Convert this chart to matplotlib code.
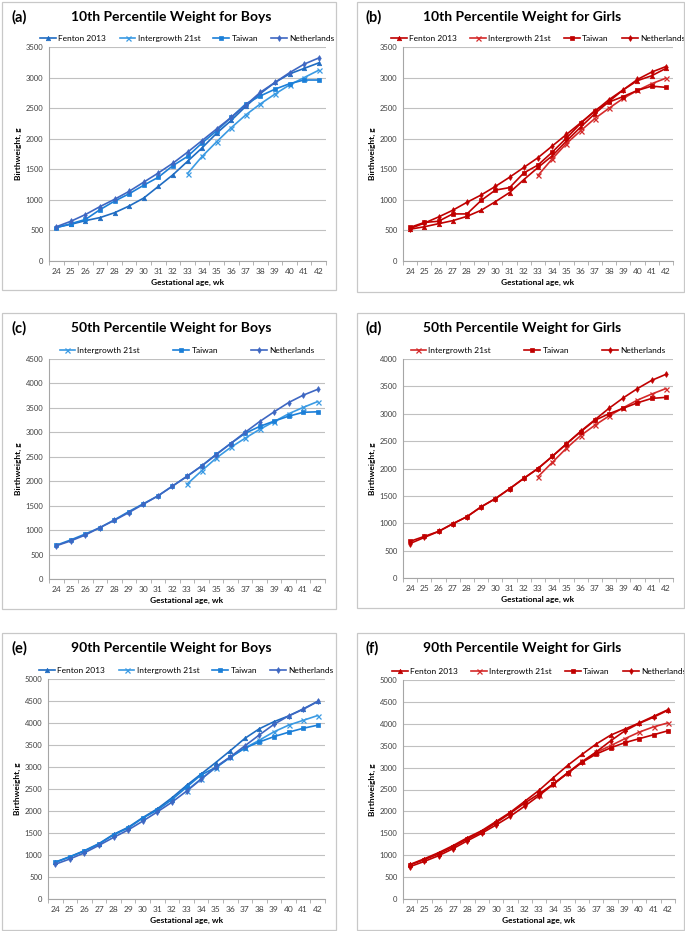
"""Birthweight percentile charts: boys (blue) and girls (red), six panels."""

import matplotlib

matplotlib.use("Agg")
import matplotlib.pyplot as plt
from matplotlib.patches import Rectangle

plt.rcParams["font.family"] = ["Lato", "DejaVu Sans"]

weeks = list(range(24, 43))
weeks_ig = list(range(33, 43))

# 10th percentile, boys
fenton_b10 = [550, 600, 660, 710, 790, 900, 1030, 1220, 1410, 1630, 1850, 2090, 2300, 2530, 2740, 2920, 3060, 3150, 3240]
ig_b10 = [1430, 1710, 1950, 2180, 2390, 2570, 2730, 2880, 3000, 3120]
taiwan_b10 = [545, 610, 680, 840, 980, 1100, 1240, 1370, 1560, 1710, 1930, 2130, 2350, 2570, 2700, 2810, 2900, 2960, 2960]
nl_b10 = [560, 650, 760, 890, 1010, 1140, 1290, 1440, 1600, 1780, 1970, 2160, 2350, 2550, 2760, 2920, 3080, 3220, 3320]

# 10th percentile, girls
fenton_g10 = [520, 560, 610, 660, 730, 830, 970, 1120, 1330, 1530, 1720, 1960, 2190, 2410, 2610, 2800, 2950, 3030, 3150]
ig_g10 = [1400, 1670, 1920, 2130, 2330, 2500, 2660, 2790, 2900, 2990]
taiwan_g10 = [550, 630, 650, 770, 770, 990, 1160, 1200, 1440, 1570, 1780, 2010, 2250, 2460, 2600, 2690, 2790, 2860, 2840]
nl_g10 = [530, 620, 720, 830, 960, 1080, 1220, 1370, 1530, 1690, 1880, 2070, 2260, 2450, 2640, 2800, 2970, 3090, 3180]

# 50th percentile, boys
ig_b50 = [1940, 2210, 2470, 2690, 2880, 3060, 3220, 3380, 3510, 3630]
taiwan_b50 = [690, 800, 920, 1050, 1210, 1380, 1540, 1700, 1900, 2100, 2310, 2550, 2770, 2980, 3120, 3230, 3330, 3410, 3420]
nl_b50 = [680, 780, 900, 1050, 1200, 1360, 1530, 1700, 1900, 2100, 2310, 2540, 2770, 3000, 3220, 3420, 3610, 3760, 3880]

# 50th percentile, girls
ig_g50 = [1850, 2110, 2370, 2600, 2790, 2960, 3110, 3250, 3360, 3460]
taiwan_g50 = [670, 760, 850, 990, 1120, 1300, 1450, 1630, 1820, 2000, 2220, 2450, 2670, 2880, 3000, 3100, 3200, 3280, 3300]
nl_g50 = [630, 740, 850, 990, 1120, 1300, 1450, 1630, 1820, 2000, 2220, 2450, 2680, 2890, 3100, 3290, 3460, 3610, 3720]

# 90th percentile, boys
fenton_b90 = [840, 960, 1100, 1260, 1470, 1630, 1850, 2050, 2300, 2580, 2840, 3100, 3370, 3650, 3870, 4030, 4160, 4320, 4490]
ig_b90 = [2460, 2730, 2980, 3220, 3430, 3610, 3800, 3950, 4060, 4170]
taiwan_b90 = [830, 960, 1090, 1250, 1460, 1610, 1840, 2020, 2260, 2540, 2820, 2990, 3220, 3430, 3570, 3690, 3790, 3880, 3950]
nl_b90 = [790, 910, 1050, 1220, 1400, 1570, 1770, 1980, 2200, 2450, 2720, 3000, 3230, 3480, 3730, 3970, 4160, 4310, 4490]

# 90th percentile, girls
fenton_g90 = [790, 920, 1060, 1220, 1400, 1560, 1770, 1980, 2230, 2480, 2770, 3050, 3300, 3540, 3740, 3880, 4020, 4170, 4320]
ig_g90 = [2380, 2630, 2880, 3140, 3350, 3500, 3660, 3810, 3930, 4020]
taiwan_g90 = [780, 900, 1030, 1190, 1370, 1530, 1740, 1960, 2190, 2400, 2620, 2870, 3120, 3310, 3450, 3570, 3660, 3750, 3840]
nl_g90 = [740, 860, 990, 1150, 1330, 1500, 1690, 1890, 2120, 2360, 2620, 2880, 3120, 3360, 3610, 3840, 4010, 4150, 4310]

W, H = 685, 931

BLUE = {"Fenton 2013": "#1f6cc2", "Intergrowth 21st": "#3a9ae3",
        "Taiwan": "#1b7fd8", "Netherlands": "#3e67c2"}
RED = {"Fenton 2013": "#c00000", "Intergrowth 21st": "#d42a2a",
       "Taiwan": "#c00000", "Netherlands": "#c00000"}
MARK = {"Fenton 2013": ("^", 3.2), "Intergrowth 21st": ("x", 3.6),
        "Taiwan": ("s", 3.2), "Netherlands": ("d", 3.0)}


def box(x0, y0, x1, y1):
    return [x0 / W, 1 - y1 / H, (x1 - x0) / W, (y1 - y0) / H]


panels = [
    ("(a)", "10th Percentile Weight for Boys", BLUE, 3500,
     [("Fenton 2013", weeks, fenton_b10), ("Intergrowth 21st", weeks_ig, ig_b10),
      ("Taiwan", weeks, taiwan_b10), ("Netherlands", weeks, nl_b10)],
     (2, 2, 336, 290), (49, 47, 326, 261)),
    ("(b)", "10th Percentile Weight for Girls", RED, 3500,
     [("Fenton 2013", weeks, fenton_g10), ("Intergrowth 21st", weeks_ig, ig_g10),
      ("Taiwan", weeks, taiwan_g10), ("Netherlands", weeks, nl_g10)],
     (357, 2, 684, 292), (403, 47, 673, 261)),
    ("(c)", "50th Percentile Weight for Boys", BLUE, 4500,
     [("Intergrowth 21st", weeks_ig, ig_b50),
      ("Taiwan", weeks, taiwan_b50), ("Netherlands", weeks, nl_b50)],
     (2, 313, 336, 609), (49, 359, 325, 579)),
    ("(d)", "50th Percentile Weight for Girls", RED, 4000,
     [("Intergrowth 21st", weeks_ig, ig_g50),
      ("Taiwan", weeks, taiwan_g50), ("Netherlands", weeks, nl_g50)],
     (357, 313, 684, 608), (403, 359, 673, 578)),
    ("(e)", "90th Percentile Weight for Boys", BLUE, 5000,
     [("Fenton 2013", weeks, fenton_b90), ("Intergrowth 21st", weeks_ig, ig_b90),
      ("Taiwan", weeks, taiwan_b90), ("Netherlands", weeks, nl_b90)],
     (2, 633, 336, 930), (48, 679, 325, 899)),
    ("(f)", "90th Percentile Weight for Girls", RED, 5000,
     [("Fenton 2013", weeks, fenton_g90), ("Intergrowth 21st", weeks_ig, ig_g90),
      ("Taiwan", weeks, taiwan_g90), ("Netherlands", weeks, nl_g90)],
     (357, 633, 684, 930), (403, 680, 675, 899)),
]

fig = plt.figure(figsize=(W / 100, H / 100), dpi=100)
fig.patch.set_facecolor("white")

for letter, title, colors, ymax, series, frame, area in panels:
    fx0, fy0, fx1, fy1 = frame
    fig.patches.append(Rectangle((fx0 / W, 1 - fy1 / H), (fx1 - fx0) / W, (fy1 - fy0) / H,
                                 transform=fig.transFigure, fill=False,
                                 edgecolor="#c8c8c8", linewidth=0.9))
    fig.text((fx0 + 9) / W, 1 - (fy0 + 15) / H, letter, fontsize=10.5,
             fontweight="bold", va="center", ha="left")
    fig.text(((fx0 + fx1) / 2 + 2) / W, 1 - (fy0 + 15) / H, title, fontsize=10,
             fontweight="bold", va="center", ha="center")

    ax = fig.add_axes(box(*area))
    for name, xs, ys in series:
        m, ms = MARK[name]
        ax.plot(xs, ys, color=colors[name], linewidth=1.2, marker=m,
                markersize=ms, markeredgewidth=0.9 if m == "x" else 0.5, label=name)

    ax.set_xlim(23.5, 42.5)
    ax.set_ylim(0, ymax)
    ax.set_yticks(range(0, ymax + 1, 500))
    ax.set_xticks(weeks)
    ax.set_xticks([w + 0.5 for w in range(23, 43)], minor=True)
    ax.tick_params(axis="x", which="major", length=0, labelsize=6, colors="#404040", pad=5)
    ax.tick_params(axis="x", which="minor", length=3, color="#a6a6a6")
    ax.tick_params(axis="y", length=0, labelsize=5.5, colors="#404040", pad=4)
    ax.grid(axis="y", color="#c0c0c0", linewidth=0.8)
    ax.set_axisbelow(True)
    for s in ("top", "right"):
        ax.spines[s].set_visible(False)
    for s in ("left", "bottom"):
        ax.spines[s].set_color("#a6a6a6")
        ax.spines[s].set_linewidth(0.8)
    ax.set_xlabel("Gestational age, wk", fontsize=6, fontweight="bold", labelpad=3)
    ax.set_ylabel("Birthweight, g", fontsize=6, fontweight="bold", labelpad=3)
    spacing = 1.6 if len(series) == 4 else 4.0
    ax.legend(loc="lower center", bbox_to_anchor=(0.5, 1.0), ncol=len(series),
              frameon=False, fontsize=6, handlelength=1.9, columnspacing=spacing,
              handletextpad=0.25, borderaxespad=0.25)

fig.savefig("out.png", dpi=100)
